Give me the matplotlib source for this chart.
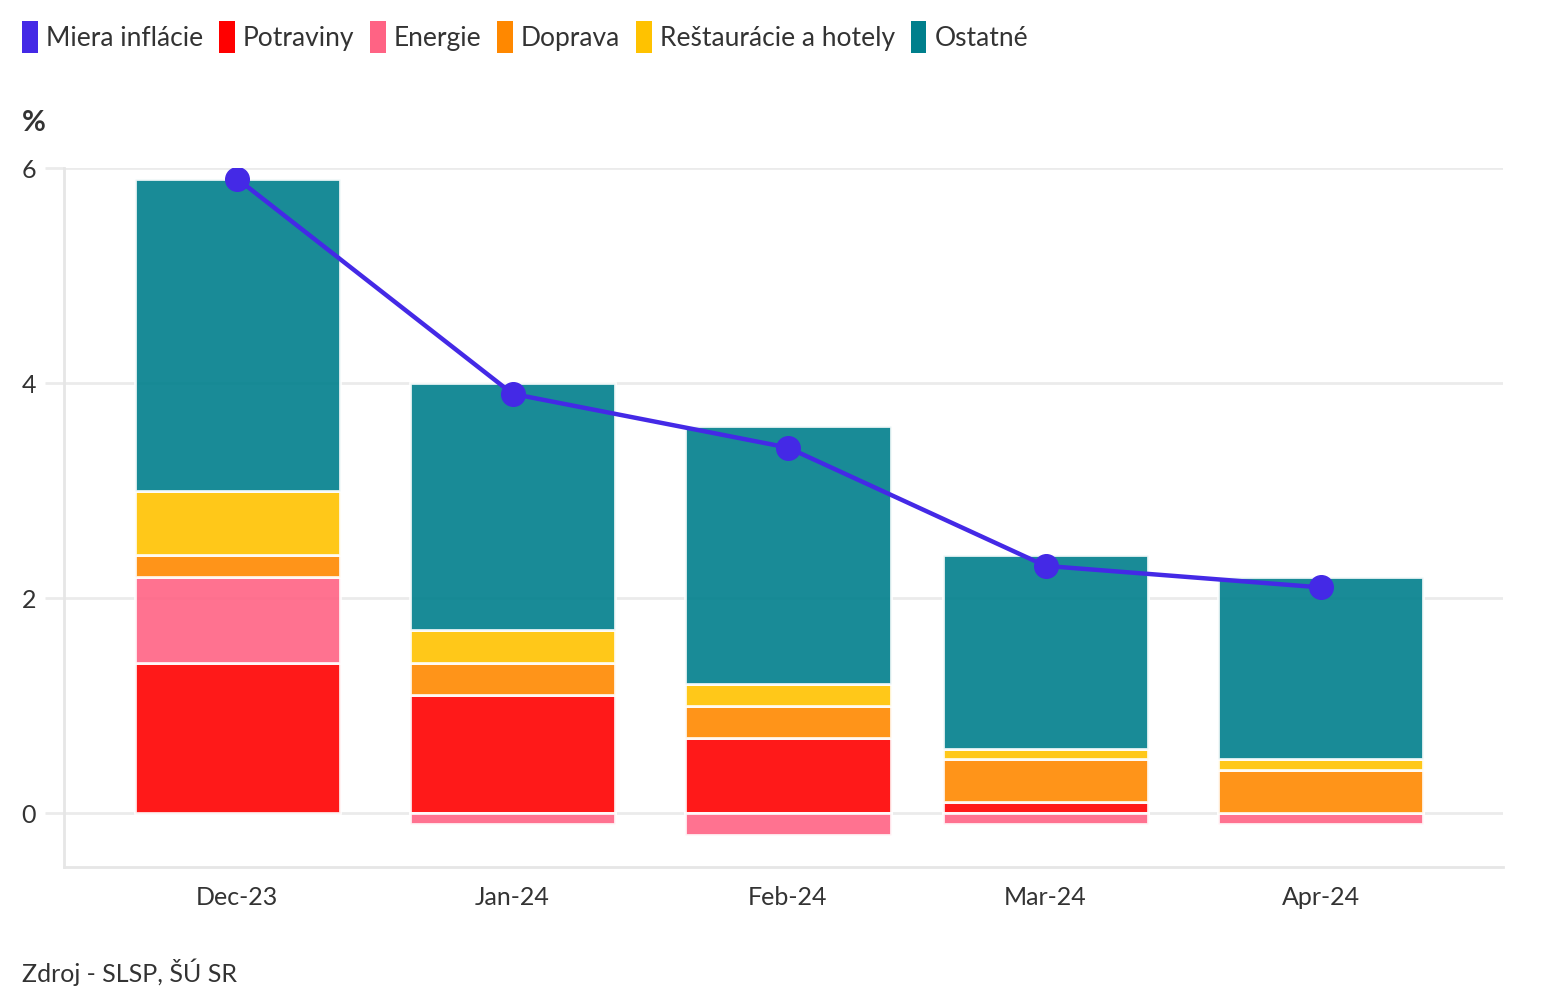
import numpy as np
import matplotlib
matplotlib.use("Agg")
import matplotlib.pyplot as plt
import matplotlib.dates as mdates
from matplotlib.patches import Patch
import datetime as dt

# data
months = ["2023-12-01", "2024-01-01", "2024-02-01", "2024-03-01", "2024-04-01"]
month_labels = ["Dec-23", "Jan-24", "Feb-24", "Mar-24", "Apr-24"]
potraviny = [1.4, 1.1, 0.7, 0.1, 0.0]
energie = [0.8, -0.1, -0.2, -0.1, -0.1]
doprava = [0.2, 0.3, 0.3, 0.4, 0.4]
restauracie = [0.6, 0.3, 0.2, 0.1, 0.1]
ostatne = [2.9, 2.3, 2.4, 1.8, 1.7]
miera = [5.9, 3.9, 3.4, 2.3, 2.1]

series = [
    ("Potraviny", potraviny, "#ff0000"),
    ("Energie", energie, "#ff6384"),
    ("Doprava", doprava, "#ff8800"),
    ("Reštaurácie a hotely", restauracie, "#ffc200"),
    ("Ostatné", ostatne, "#007f8c"),
]
line_color = "#4429e6"
text_color = "#333333"

plt.rcParams['font.family'] = ['Lato', 'DejaVu Sans']

fig = plt.figure(figsize=(15.64, 10.08), dpi=100)
ax = fig.add_axes([64/1564, 1 - 867/1008, (1503 - 64)/1564, (867 - 168)/1008])

x = mdates.date2num([dt.datetime.strptime(m, "%Y-%m-%d") for m in months])
width = 23.1

# kladne hodnoty sa skladaju od nuly nahor, zaporne nadol
pos_base = np.zeros(len(x))
neg_base = np.zeros(len(x))
for name, vals, col in series:
    vals = np.array(vals, dtype=float)
    bottoms = np.where(vals >= 0, pos_base, neg_base)
    ax.bar(x, vals, width=width, bottom=bottoms, color=col, alpha=0.9,
           edgecolor="white", linewidth=2, zorder=2)
    pos_base = pos_base + np.clip(vals, 0, None)
    neg_base = neg_base + np.clip(vals, None, 0)

ax.plot(x, miera, color=line_color, linewidth=3.2, marker="o",
        markersize=17, zorder=4)

ax.set_ylim(-0.5, 6.0)
ax.set_xlim(x[0] - 19.5, x[-1] + 20.5)
ax.set_yticks([0, 2, 4, 6])
ax.set_xticks(x)
ax.set_xticklabels(month_labels)
ax.grid(axis="y", color="#ebebeb", linewidth=2, zorder=0)
ax.tick_params(axis="y", length=14, color="#ebebeb", width=2, labelsize=18,
               labelcolor=text_color, pad=6)
ax.tick_params(axis="x", length=0, labelsize=18, labelcolor=text_color, pad=14)
for s in ["top", "right"]:
    ax.spines[s].set_visible(False)
for s in ["left", "bottom"]:
    ax.spines[s].set_color("#e6e6e6")
    ax.spines[s].set_linewidth(2)
ax.set_axisbelow(True)

fig.text(22/1564, 1 - 123/1008, "%", fontsize=21, fontweight="bold",
         color=text_color, va="center", ha="left")
fig.text(22/1564, 1 - 972/1008, "Zdroj - SLSP, ŠÚ SR", fontsize=18,
         color=text_color, va="center", ha="left")

handles = [Patch(facecolor=line_color, edgecolor="none", label="Miera inflácie")]
handles += [Patch(facecolor=col, edgecolor="none", label=name) for name, _, col in series]
fig.legend(handles=handles, loc="upper left", bbox_to_anchor=(22/1564, 1 - 21/1008),
           ncol=6, frameon=False, fontsize=19, handlelength=0.6,
           handleheight=1.5, handletextpad=0.3, columnspacing=0.6,
           borderaxespad=0, borderpad=0, labelcolor=text_color)

fig.savefig("out.png", dpi=100, facecolor="white")
